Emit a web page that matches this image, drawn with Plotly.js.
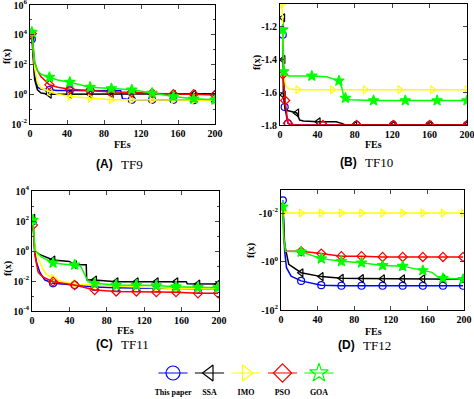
<!DOCTYPE html>
<html><head><meta charset="utf-8">
<script src="https://cdn.plot.ly/plotly-3.0.1.min.js"></script>
<style>html,body{margin:0;padding:0;background:#fff}#chart{width:474px;height:399px}</style>
</head><body><div id="chart"></div>
<script>
// ---------- DATA ----------
const seriesNames = ["This paper", "SSA", "IMO", "PSO", "GOA"];

// TF9 (panel A) - log y
const A_blue_x = [2, 3, 5, 8, 12, 21, 30, 43, 65, 88, 98, 100, 110, 132, 155, 177, 200];
const A_blue_y = [5000, 2000, 20, 3, 2.2, 1.9, 1.8, 1.8, 1.8, 1.8, 1.75, 0.5, 0.42, 0.42, 0.42, 0.4, 0.4];
const A_black_x = [2, 3, 5, 8, 12, 21, 30, 43, 65, 88, 110, 132, 155, 177, 200];
const A_black_y = [7000, 1000, 10, 2, 1.2, 1.0, 1.0, 1.0, 1.0, 1.0, 1.0, 1.0, 1.0, 1.0, 1.1];
const A_yellow_x = [2, 3, 5, 8, 12, 21, 30, 43, 65, 88, 110, 132, 155, 177, 200];
const A_yellow_y = [12000, 1500, 60, 6, 2.5, 1.6, 1.0, 0.7, 0.55, 0.42, 0.42, 0.42, 0.42, 0.41, 0.4];
const A_red_x = [2, 3, 5, 8, 12, 21, 30, 43, 65, 88, 110, 132, 155, 177, 200];
const A_red_y = [12000, 2000, 150, 40, 15, 4.3, 3, 2.2, 1.8, 1.4, 1.35, 1.2, 1.0, 1.0, 0.9];
const A_green_x = [2, 3, 5, 8, 12, 21, 30, 43, 65, 88, 110, 132, 155, 177, 200];
const A_green_y = [15000, 3000, 150, 40, 22, 14, 9, 6.5, 3, 2.4, 2, 1.2, 0.7, 0.5, 0.42];
const A_marks = [2, 21, 43, 65, 88, 110, 132, 155, 177, 200];

// TF10 (panel B) - linear y
const B_blue_x = [3, 4, 5, 8.5, 12, 46, 82, 121, 160, 200];
const B_blue_y = [-1.248, -1.46, -1.69, -1.79, -1.8, -1.8, -1.8, -1.8, -1.8, -1.8];
const B_blue_m = [3, 5, 8.5, 46, 82, 121, 160, 200];
const B_black_x = [3, 3.3, 3.6, 5, 6, 10, 18, 21, 25, 41, 60, 66, 70, 80, 121, 160, 200];
const B_black_y = [-1.144, -1.4, -1.616, -1.68, -1.71, -1.715, -1.726, -1.77, -1.775, -1.78, -1.78, -1.79, -1.8, -1.8, -1.8, -1.8, -1.8];
const B_black_m = [3, 3.3, 3.6, 18, 41, 80, 121, 160, 200];
const B_yellow_x = [2, 3, 4, 6, 10, 19, 56, 91, 128, 163, 200];
const B_yellow_y = [-1.06, -1.2, -1.5, -1.56, -1.58, -1.585, -1.585, -1.585, -1.585, -1.585, -1.585];
const B_yellow_m = [2, 19, 56, 91, 128, 163, 200];
const B_red_x = [3, 5.5, 8.5, 12, 46, 82, 121, 160, 200];
const B_red_y = [-1.49, -1.65, -1.79, -1.8, -1.8, -1.8, -1.8, -1.8, -1.8];
const B_red_m = [3, 5.5, 8.5, 46, 82, 121, 160, 200];
const B_green_x = [3, 4, 6, 10, 20, 34, 50, 63, 66, 68, 70, 75, 100, 134, 168, 200];
const B_green_y = [-1.217, -1.473, -1.49, -1.5, -1.5, -1.5, -1.505, -1.53, -1.57, -1.62, -1.635, -1.645, -1.65, -1.65, -1.65, -1.65];
const B_green_m = [3, 4, 34, 63, 70, 100, 134, 168, 200];

// TF11 (panel C) - log y
const C_blue_x = [1, 3, 4.6, 8.2, 13.5, 22.5, 45.6, 67, 90, 111.6, 133, 154, 177.5, 199];
const C_blue_y = [100, 1.0, 0.2, 0.04, 0.012, 0.007, 0.0054, 0.004, 0.0035, 0.0033, 0.0032, 0.003, 0.003, 0.003];
const C_black_x = [1, 3, 8, 22.5, 40, 45.6, 58, 58.5, 67, 90, 111.6, 133, 154, 165, 166, 177.5, 199];
const C_black_y = [150, 1.0, 0.6, 0.25, 0.2, 0.12, 0.12, 0.012, 0.0115, 0.009, 0.009, 0.009, 0.009, 0.009, 0.0065, 0.0063, 0.0063];
const C_yellow_x = [1, 3, 5, 10, 15, 22.5, 30, 45.6, 67, 90, 111.6, 133, 154, 177.5, 199];
const C_yellow_y = [100, 2, 0.6, 0.1, 0.03, 0.015, 0.01, 0.006, 0.0054, 0.0045, 0.004, 0.0035, 0.0032, 0.003, 0.003];
const C_red_x = [1, 3, 6.5, 8, 12, 22.5, 45.6, 67, 90, 111.6, 133, 154, 177.5, 199];
const C_red_y = [54, 0.54, 0.04, 0.03, 0.018, 0.009, 0.0054, 0.0025, 0.002, 0.002, 0.0018, 0.0018, 0.0015, 0.0015];
const C_green_x = [1, 3, 5, 10, 22.5, 45.6, 52, 60, 67, 90, 111.6, 133, 154, 177.5, 199];
const C_green_y = [117, 1.0, 0.85, 0.4, 0.16, 0.12, 0.1, 0.009, 0.007, 0.0054, 0.0054, 0.005, 0.0042, 0.0038, 0.0036];
const C_marks = [1, 22.5, 45.6, 67, 90, 111.6, 133, 154, 177.5, 199];

// TF12 (panel D) - negative values, -log axis
const D_blue_x = [2, 4, 6, 11, 22, 44, 66, 88, 111, 133, 155, 177, 199];
const D_blue_y = [-0.003, -0.38, -1.8, -4, -6.3, -9.5, -10, -10, -10, -10, -10, -10, -10];
const D_black_x = [2, 4, 8.5, 22, 44, 66, 88, 111, 133, 155, 177, 199];
const D_black_y = [-0.0047, -0.2, -1.3, -2.9, -4.2, -4.9, -5.0, -5.1, -5.2, -5.2, -5.3, -5.4];
const D_yellow_x = [2, 22, 44, 66, 88, 111, 133, 155, 177, 199];
const D_yellow_y = [-0.01, -0.01, -0.01, -0.01, -0.01, -0.01, -0.01, -0.01, -0.01, -0.01];
const D_red_x = [2, 3, 5, 22, 44, 66, 88, 111, 133, 155, 177, 199];
const D_red_y = [-0.0055, -0.1, -0.38, -0.38, -0.47, -0.6, -0.6, -0.65, -0.65, -0.65, -0.65, -0.65];
const D_green_x = [2, 3, 5, 22, 44, 66, 88, 111, 133, 155, 165, 172, 177, 199];
const D_green_y = [-0.0055, -0.1, -0.38, -0.4, -0.76, -0.98, -1.12, -1.45, -1.55, -2.34, -2.8, -4.5, -4.9, -5.4];
const D_marks = [2, 22, 44, 66, 88, 111, 133, 155, 177, 199];

const fesTicks = [0, 40, 80, 120, 160, 200];

// ---------- STYLE ----------
const colors = ["#0000ff", "#000000", "#ffff00", "#ff0000", "#00ff00"];
const symbols = ["circle-open", "triangle-left-open", "triangle-right-open", "diamond-open", "star"];
const legendSymbols = ["circle-open", "triangle-left-open", "triangle-right-open", "diamond-open", "star-open"];
const W = 474, H = 399;
const px = v => v / W;
const py = v => 1 - v / H;
const serif = "Liberation Serif, Times New Roman, serif";
const sans = "Liberation Sans, Arial, sans-serif";

function tr(xa, ya, xs, ys, marks, i, yfun) {
  return {
    x: xs, y: yfun ? ys.map(yfun) : ys, xaxis: xa, yaxis: ya, type: "scatter",
    mode: "lines+markers", showlegend: false, hoverinfo: "skip",
    line: { color: colors[i], width: 1.5 },
    marker: { symbol: symbols[i], size: i === 4 ? 8 : 7, color: colors[i],
      opacity: xs.map(v => marks.includes(v) ? 1 : 0),
      line: { color: colors[i], width: 1.2 } }
  };
}

const traces = [
  tr("x", "y", A_blue_x, A_blue_y, A_marks, 0),
  tr("x", "y", A_black_x, A_black_y, A_marks, 1),
  tr("x", "y", A_yellow_x, A_yellow_y, A_marks, 2),
  tr("x", "y", A_red_x, A_red_y, A_marks, 3),
  tr("x", "y", A_green_x, A_green_y, A_marks, 4),
  tr("x2", "y2", B_blue_x, B_blue_y, B_blue_m, 0),
  tr("x2", "y2", B_black_x, B_black_y, B_black_m, 1),
  tr("x2", "y2", B_yellow_x, B_yellow_y, B_yellow_m, 2),
  tr("x2", "y2", B_red_x, B_red_y, B_red_m, 3),
  tr("x2", "y2", B_green_x, B_green_y, B_green_m, 4),
  tr("x3", "y3", C_blue_x, C_blue_y, C_marks, 0),
  tr("x3", "y3", C_black_x, C_black_y, C_marks, 1),
  tr("x3", "y3", C_yellow_x, C_yellow_y, C_marks, 2),
  tr("x3", "y3", C_red_x, C_red_y, C_marks, 3),
  tr("x3", "y3", C_green_x, C_green_y, C_marks, 4),
  tr("x4", "y4", D_blue_x, D_blue_y, D_marks, 0, v => -v),
  tr("x4", "y4", D_black_x, D_black_y, D_marks.slice(1), 1, v => -v),
  tr("x4", "y4", D_yellow_x, D_yellow_y, D_marks, 2, v => -v),
  tr("x4", "y4", D_red_x, D_red_y, D_marks.slice(1), 3, v => -v),
  tr("x4", "y4", D_green_x, D_green_y, D_marks, 4, v => -v)
];

// legend built on its own hidden axes
seriesNames.forEach((n, i) => {
  traces.push({ x: [i - 0.4, i + 0.4], y: [0, 0], xaxis: "x5", yaxis: "y5", mode: "lines",
    line: { color: colors[i], width: 1.2 }, showlegend: false, hoverinfo: "skip" });
  traces.push({ x: [i], y: [0], xaxis: "x5", yaxis: "y5", mode: "markers",
    marker: { symbol: legendSymbols[i], size: 14, color: colors[i], line: { color: colors[i], width: 1.2 } },
    showlegend: false, hoverinfo: "skip" });
});
traces.push({ x: seriesNames.map((n, i) => i), y: seriesNames.map(() => -1), xaxis: "x5", yaxis: "y5",
  mode: "text", text: seriesNames, textfont: { family: serif, size: 8, weight: "bold", color: "#000" },
  showlegend: false, hoverinfo: "skip" });

const tickFont = { family: serif, size: 10, weight: "bold", color: "#000" };
function xax(x0, x1) {
  return { domain: [px(x0), px(x1)], range: [0, 200], tickvals: fesTicks, ticks: "inside", ticklen: 4,
    showline: true, mirror: "allticks", linecolor: "#000", linewidth: 1, showgrid: false, zeroline: false,
    tickfont: tickFont, fixedrange: true, ticklabeloverflow: "allow" };
}
function yax(y0, y1, extra) {
  return Object.assign({ domain: [py(y1), py(y0)], ticks: "inside", ticklen: 4, showline: true,
    mirror: "allticks", linecolor: "#000", linewidth: 1, showgrid: false, zeroline: false,
    tickfont: tickFont, fixedrange: true, ticklabeloverflow: "allow" }, extra);
}
const logTicks = (lo, hi) => { const v = []; for (let e = lo; e <= hi; e += 2) v.push(Math.pow(10, e)); return v; };
const logText = (lo, hi, neg) => { const t = []; for (let e = lo; e <= hi; e += 2) t.push((neg ? "-" : "") + "10<sup>" + e + "</sup>"); return t; };
const oddDec = (lo, hi) => { const v = []; for (let e = lo + 1; e < hi; e += 2) v.push(Math.pow(10, e)); return v; };

const anns = [];
function label(text, x, y, font, extra) {
  anns.push(Object.assign({ text, x: px(x), y: py(y), xref: "paper", yref: "paper", showarrow: false, font,
    xanchor: "center", yanchor: "middle" }, extra || {}));
}
const tFont = { family: serif, size: 10, weight: "bold", color: "#000" };
const capA = { family: sans, size: 12, weight: "bold", color: "#000" };
const capB = { family: serif, size: 13, color: "#000" };
// axis titles
label("FEs", 122, 145, tFont); label("FEs", 373, 145, tFont);
label("FEs", 126, 330, tFont); label("FEs", 373, 331, tFont);
label("f(x)", 7, 57, tFont, { textangle: -90 }); label("f(x)", 257, 63, tFont, { textangle: -90 });
label("f(x)", 8, 268, tFont, { textangle: -90 }); label("f(x)", 251, 251, tFont, { textangle: -90 });
// captions
label("(A)", 115, 164, capA, { xanchor: "right" }); label("TF9", 119, 164, capB, { xanchor: "left" });
label("(B)", 359, 162, capA, { xanchor: "right" }); label("TF10", 363, 162, capB, { xanchor: "left" });
label("(C)", 115, 344, capA, { xanchor: "right" }); label("TF11", 119, 344, capB, { xanchor: "left" });
label("(D)", 357, 345, capA, { xanchor: "right" }); label("TF12", 361, 345, capB, { xanchor: "left" });

const layout = {
  width: W, height: H, margin: { l: 0, r: 0, t: 0, b: 0 }, paper_bgcolor: "#fff", plot_bgcolor: "#fff",
  showlegend: false, annotations: anns,
  xaxis: Object.assign(xax(30, 215), { anchor: "y" }),
  yaxis: yax(5, 124, { anchor: "x", type: "log", range: [-2, 6], tickvals: logTicks(-2, 6), ticktext: logText(-2, 6),
    minor: { tickvals: oddDec(-2, 6), ticks: "inside", ticklen: 2 } }),
  xaxis2: Object.assign(xax(280, 467), { anchor: "y2" }),
  yaxis2: yax(4, 125, { anchor: "x2", range: [-1.8, -1.06], tickvals: [-1.8, -1.6, -1.4, -1.2],
    ticktext: ["-1.8", "-1.6", "-1.4", "-1.2"] }),
  xaxis3: Object.assign(xax(32, 219), { anchor: "y3" }),
  yaxis3: yax(191, 311, { anchor: "x3", type: "log", range: [-4, 4], tickvals: logTicks(-4, 4), ticktext: logText(-4, 4),
    minor: { tickvals: oddDec(-4, 4), ticks: "inside", ticklen: 2 } }),
  xaxis4: Object.assign(xax(281, 464), { anchor: "y4" }),
  yaxis4: yax(190, 310, { anchor: "x4", type: "log", range: [2, -2.95], tickvals: [0.01, 1, 100],
    ticktext: logText(-2, 2, true) }),
  xaxis5: { domain: [px(154.75), px(337.25)], range: [-0.5, 4.5], visible: false, anchor: "y5", fixedrange: true },
  yaxis5: { domain: [0, py(363)], range: [-1.3, 0.5], visible: false, anchor: "x5", fixedrange: true }
};

Plotly.newPlot("chart", traces, layout, { staticPlot: true, displayModeBar: false });
</script>
</body></html>
